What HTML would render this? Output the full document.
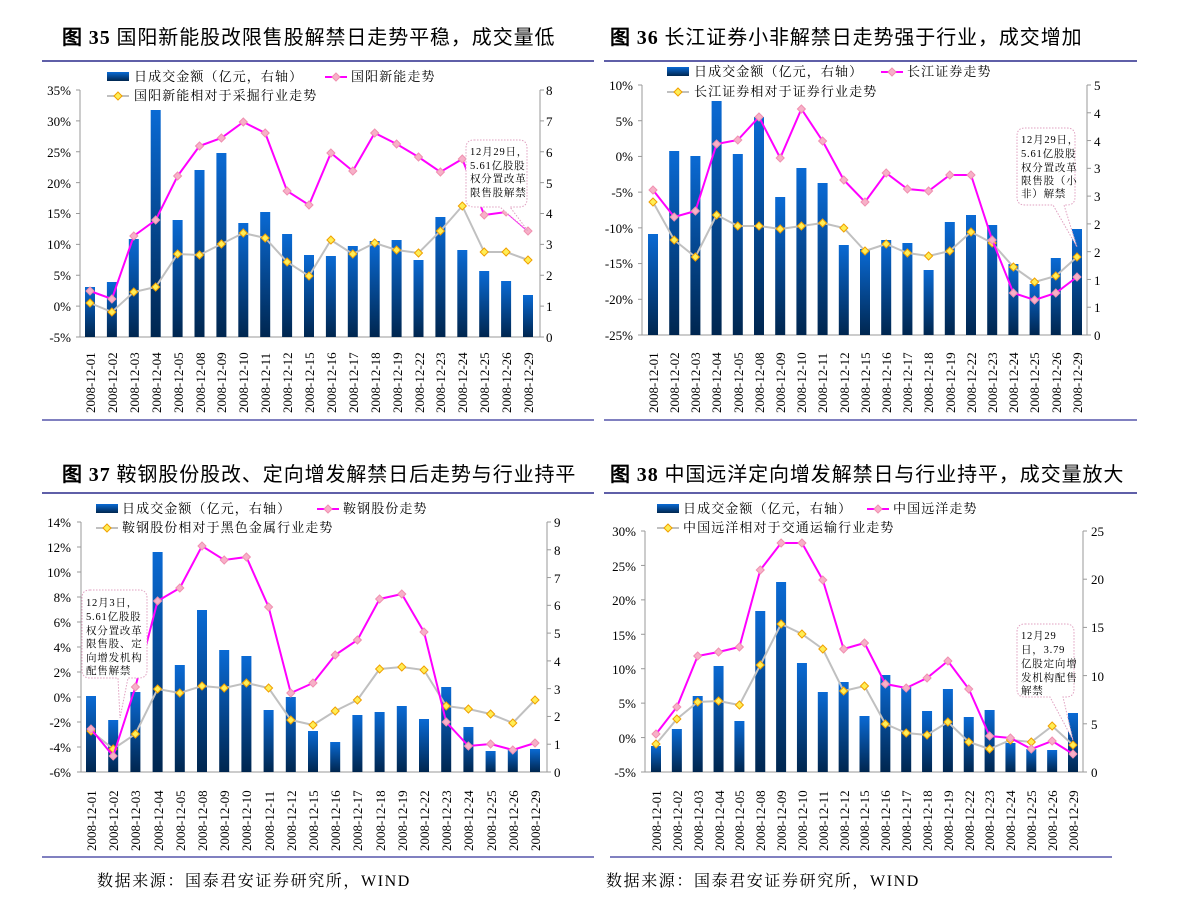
<!DOCTYPE html>
<html><head><meta charset="utf-8"><style>
html,body{margin:0;padding:0;background:#fff;}
svg{display:block;font-family:"Liberation Serif","Noto Serif CJK SC",serif;}
.t{font-size:20px;fill:#000;font-family:"Liberation Serif","Noto Sans CJK SC",sans-serif;letter-spacing:0.9px;}
.t tspan.n{font-weight:bold;font-family:"Liberation Serif",serif;}
.ax{font-size:13px;fill:#000;}
.lg{font-size:13px;fill:#000;letter-spacing:1.1px;}
.co{font-size:10.5px;fill:#000;letter-spacing:0.8px;}
.src{font-size:16px;fill:#000;letter-spacing:1.6px;}
</style></head><body>
<svg id="s" width="1190" height="909" viewBox="0 0 1190 909" xmlns="http://www.w3.org/2000/svg">
<defs>
<linearGradient id="g" x1="0" y1="0" x2="0" y2="1"><stop offset="0" stop-color="#0a6ad4"/><stop offset="1" stop-color="#00264f"/></linearGradient>
</defs>
<text class="t" x="62" y="44"><tspan class="n">图 35</tspan>  国阳新能股改限售股解禁日走势平稳，成交量低</text>
<text class="t" x="610" y="44"><tspan class="n">图 36</tspan>  长江证券小非解禁日走势强于行业，成交增加</text>
<text class="t" x="62" y="481"><tspan class="n">图 37</tspan>  鞍钢股份股改、定向增发解禁日后走势与行业持平</text>
<text class="t" x="610" y="481"><tspan class="n">图 38</tspan>  中国远洋定向增发解禁日与行业持平，成交量放大</text>
<line x1="42" y1="61" x2="594" y2="61" stroke="#2a2a8c" stroke-width="1.5"/>
<line x1="604" y1="61" x2="1137" y2="61" stroke="#2a2a8c" stroke-width="1.5"/>
<line x1="42" y1="420" x2="594" y2="420" stroke="#8080c0" stroke-width="2"/>
<line x1="604" y1="420" x2="1137" y2="420" stroke="#8080c0" stroke-width="2"/>
<line x1="42" y1="493" x2="594" y2="493" stroke="#2a2a8c" stroke-width="1.5"/>
<line x1="604" y1="493" x2="1137" y2="493" stroke="#2a2a8c" stroke-width="1.5"/>
<line x1="42" y1="857" x2="594" y2="857" stroke="#8080c0" stroke-width="2"/>
<line x1="610" y1="857" x2="1112" y2="857" stroke="#8080c0" stroke-width="2"/>
<text class="src" x="97" y="886">数据来源：国泰君安证券研究所，WIND</text>
<text class="src" x="606" y="886">数据来源：国泰君安证券研究所，WIND</text>

<g class="lg">
<rect x="107" y="72" width="22" height="9" fill="url(#g)"/><text x="134" y="81">日成交金额（亿元，右轴）</text>
<text x="351" y="81">国阳新能走势</text><text x="134" y="100">国阳新能相对于采掘行业走势</text>
<rect x="667" y="67" width="22" height="9" fill="url(#g)"/><text x="694" y="76">日成交金额（亿元，右轴）</text>
<text x="907" y="76">长江证券走势</text><text x="694" y="96">长江证券相对于证券行业走势</text>
<rect x="96" y="504" width="22" height="9" fill="url(#g)"/><text x="122" y="513">日成交金额（亿元，右轴）</text>
<text x="343" y="513">鞍钢股份走势</text><text x="122" y="532">鞍钢股份相对于黑色金属行业走势</text>
<rect x="657" y="504" width="22" height="9" fill="url(#g)"/><text x="683" y="513">日成交金额（亿元，右轴）</text>
<text x="893" y="513">中国远洋走势</text><text x="683" y="532">中国远洋相对于交通运输行业走势</text>
</g>

<g class="ax" text-anchor="end">
<text x="71" y="95">35%</text><text x="71" y="126">30%</text><text x="71" y="157">25%</text><text x="71" y="188">20%</text><text x="71" y="218">15%</text><text x="71" y="249">10%</text><text x="71" y="280">5%</text><text x="71" y="311">0%</text><text x="71" y="342">-5%</text>
<text x="633" y="90">10%</text><text x="633" y="126">5%</text><text x="633" y="161">0%</text><text x="633" y="197">-5%</text><text x="633" y="233">-10%</text><text x="633" y="268">-15%</text><text x="633" y="304">-20%</text><text x="633" y="340">-25%</text>
<text x="71" y="527">14%</text><text x="71" y="552">12%</text><text x="71" y="577">10%</text><text x="71" y="602">8%</text><text x="71" y="627">6%</text><text x="71" y="652">4%</text><text x="71" y="677">2%</text><text x="71" y="702">0%</text><text x="71" y="727">-2%</text><text x="71" y="752">-4%</text><text x="71" y="777">-6%</text>
<text x="636" y="536">30%</text><text x="636" y="571">25%</text><text x="636" y="605">20%</text><text x="636" y="640">15%</text><text x="636" y="674">10%</text><text x="636" y="708">5%</text><text x="636" y="743">0%</text><text x="636" y="777">-5%</text>
</g>
<g class="ax" text-anchor="start">
<text x="546" y="95">8</text><text x="546" y="126">7</text><text x="546" y="157">6</text><text x="546" y="188">5</text><text x="546" y="218">4</text><text x="546" y="249">3</text><text x="546" y="280">2</text><text x="546" y="311">1</text><text x="546" y="342">0</text>
<text x="1094" y="90">5</text><text x="1094" y="118">4</text><text x="1094" y="146">4</text><text x="1094" y="173">3</text><text x="1094" y="201">3</text><text x="1094" y="229">2</text><text x="1094" y="257">2</text><text x="1094" y="285">1</text><text x="1094" y="312">1</text><text x="1094" y="340">0</text>
<text x="554" y="527">9</text><text x="554" y="555">8</text><text x="554" y="583">7</text><text x="554" y="610">6</text><text x="554" y="638">5</text><text x="554" y="666">4</text><text x="554" y="694">3</text><text x="554" y="721">2</text><text x="554" y="749">1</text><text x="554" y="777">0</text>
<text x="1091" y="536">25</text><text x="1091" y="584">20</text><text x="1091" y="632">15</text><text x="1091" y="681">10</text><text x="1091" y="729">5</text><text x="1091" y="777">0</text>
</g>

<g class="ax" id="dates">
<g transform="translate(0,413)">
<text transform="translate(95,0) rotate(-90)">2008-12-01</text><text transform="translate(117,0) rotate(-90)">2008-12-02</text><text transform="translate(139,0) rotate(-90)">2008-12-03</text><text transform="translate(161,0) rotate(-90)">2008-12-04</text><text transform="translate(183,0) rotate(-90)">2008-12-05</text><text transform="translate(205,0) rotate(-90)">2008-12-08</text><text transform="translate(226,0) rotate(-90)">2008-12-09</text><text transform="translate(248,0) rotate(-90)">2008-12-10</text><text transform="translate(270,0) rotate(-90)">2008-12-11</text><text transform="translate(292,0) rotate(-90)">2008-12-12</text><text transform="translate(314,0) rotate(-90)">2008-12-15</text><text transform="translate(336,0) rotate(-90)">2008-12-16</text><text transform="translate(358,0) rotate(-90)">2008-12-17</text><text transform="translate(380,0) rotate(-90)">2008-12-18</text><text transform="translate(402,0) rotate(-90)">2008-12-19</text><text transform="translate(424,0) rotate(-90)">2008-12-22</text><text transform="translate(445,0) rotate(-90)">2008-12-23</text><text transform="translate(467,0) rotate(-90)">2008-12-24</text><text transform="translate(489,0) rotate(-90)">2008-12-25</text><text transform="translate(511,0) rotate(-90)">2008-12-26</text><text transform="translate(533,0) rotate(-90)">2008-12-29</text>
</g>
<g transform="translate(0,413)">
<text transform="translate(658,0) rotate(-90)">2008-12-01</text><text transform="translate(679,0) rotate(-90)">2008-12-02</text><text transform="translate(700,0) rotate(-90)">2008-12-03</text><text transform="translate(721,0) rotate(-90)">2008-12-04</text><text transform="translate(743,0) rotate(-90)">2008-12-05</text><text transform="translate(764,0) rotate(-90)">2008-12-08</text><text transform="translate(785,0) rotate(-90)">2008-12-09</text><text transform="translate(806,0) rotate(-90)">2008-12-10</text><text transform="translate(827,0) rotate(-90)">2008-12-11</text><text transform="translate(849,0) rotate(-90)">2008-12-12</text><text transform="translate(870,0) rotate(-90)">2008-12-15</text><text transform="translate(891,0) rotate(-90)">2008-12-16</text><text transform="translate(912,0) rotate(-90)">2008-12-17</text><text transform="translate(933,0) rotate(-90)">2008-12-18</text><text transform="translate(955,0) rotate(-90)">2008-12-19</text><text transform="translate(976,0) rotate(-90)">2008-12-22</text><text transform="translate(997,0) rotate(-90)">2008-12-23</text><text transform="translate(1018,0) rotate(-90)">2008-12-24</text><text transform="translate(1039,0) rotate(-90)">2008-12-25</text><text transform="translate(1061,0) rotate(-90)">2008-12-26</text><text transform="translate(1082,0) rotate(-90)">2008-12-29</text>
</g>
<g transform="translate(0,851)">
<text transform="translate(96,0) rotate(-90)">2008-12-01</text><text transform="translate(118,0) rotate(-90)">2008-12-02</text><text transform="translate(140,0) rotate(-90)">2008-12-03</text><text transform="translate(163,0) rotate(-90)">2008-12-04</text><text transform="translate(185,0) rotate(-90)">2008-12-05</text><text transform="translate(207,0) rotate(-90)">2008-12-08</text><text transform="translate(229,0) rotate(-90)">2008-12-09</text><text transform="translate(251,0) rotate(-90)">2008-12-10</text><text transform="translate(274,0) rotate(-90)">2008-12-11</text><text transform="translate(296,0) rotate(-90)">2008-12-12</text><text transform="translate(318,0) rotate(-90)">2008-12-15</text><text transform="translate(340,0) rotate(-90)">2008-12-16</text><text transform="translate(362,0) rotate(-90)">2008-12-17</text><text transform="translate(385,0) rotate(-90)">2008-12-18</text><text transform="translate(407,0) rotate(-90)">2008-12-19</text><text transform="translate(429,0) rotate(-90)">2008-12-22</text><text transform="translate(451,0) rotate(-90)">2008-12-23</text><text transform="translate(473,0) rotate(-90)">2008-12-24</text><text transform="translate(496,0) rotate(-90)">2008-12-25</text><text transform="translate(518,0) rotate(-90)">2008-12-26</text><text transform="translate(540,0) rotate(-90)">2008-12-29</text>
</g>
<g transform="translate(0,851)">
<text transform="translate(661,0) rotate(-90)">2008-12-01</text><text transform="translate(682,0) rotate(-90)">2008-12-02</text><text transform="translate(703,0) rotate(-90)">2008-12-03</text><text transform="translate(724,0) rotate(-90)">2008-12-04</text><text transform="translate(744,0) rotate(-90)">2008-12-05</text><text transform="translate(765,0) rotate(-90)">2008-12-08</text><text transform="translate(786,0) rotate(-90)">2008-12-09</text><text transform="translate(807,0) rotate(-90)">2008-12-10</text><text transform="translate(828,0) rotate(-90)">2008-12-11</text><text transform="translate(849,0) rotate(-90)">2008-12-12</text><text transform="translate(869,0) rotate(-90)">2008-12-15</text><text transform="translate(890,0) rotate(-90)">2008-12-16</text><text transform="translate(911,0) rotate(-90)">2008-12-17</text><text transform="translate(932,0) rotate(-90)">2008-12-18</text><text transform="translate(953,0) rotate(-90)">2008-12-19</text><text transform="translate(974,0) rotate(-90)">2008-12-22</text><text transform="translate(994,0) rotate(-90)">2008-12-23</text><text transform="translate(1015,0) rotate(-90)">2008-12-24</text><text transform="translate(1036,0) rotate(-90)">2008-12-25</text><text transform="translate(1057,0) rotate(-90)">2008-12-26</text><text transform="translate(1078,0) rotate(-90)">2008-12-29</text>
</g>
</g>

<g id="plots"></g>

<g fill="#fff" stroke="#e0a0c0" stroke-width="1" stroke-dasharray="1.5,1.5">
<path d="M474,140 H519 Q527,140 527,148 V199 Q527,207 519,207 H510 L528,231 L500,207 H474 Q466,207 466,199 V148 Q466,140 474,140 Z"/>
<path d="M1025,128 H1067 Q1075,128 1075,136 V197 Q1075,205 1067,205 H1064 L1077,247 L1053,205 H1025 Q1017,205 1017,197 V136 Q1017,128 1025,128 Z"/>
<path d="M90,590 H139 Q147,590 147,598 V670 Q147,678 139,678 H128 L120,718 L118,678 H90 Q82,678 82,670 V598 Q82,590 90,590 Z"/>
<path d="M1025,624 H1066 Q1074,624 1074,632 V689 Q1074,697 1066,697 H1063 L1073,740 L1050,697 H1025 Q1017,697 1017,689 V632 Q1017,624 1025,624 Z"/>
</g>
<g class="co">
<text x="470" y="155">12月29日，</text><text x="470" y="169">5.61亿股股</text><text x="470" y="182">权分置改革</text><text x="470" y="196">限售股解禁</text>
<text x="1021" y="143">12月29日，</text><text x="1021" y="157">5.61亿股股</text><text x="1021" y="171">权分置改革</text><text x="1021" y="184">限售股（小</text><text x="1021" y="197">非）解禁</text>
<text x="86" y="606">12月3日，</text><text x="86" y="620">5.61亿股股</text><text x="86" y="634">权分置改革</text><text x="86" y="647">限售股、定</text><text x="86" y="661">向增发机构</text><text x="86" y="674">配售解禁</text>
<text x="1021" y="639">12月29</text><text x="1021" y="653">日，3.79</text><text x="1021" y="667">亿股定向增</text><text x="1021" y="681">发机构配售</text><text x="1021" y="694">解禁</text>
</g>
</svg>
<script>
var NS="http://www.w3.org/2000/svg",P=document.getElementById("plots");
function el(n,a){var e=document.createElementNS(NS,n);for(var k in a)e.setAttribute(k,a[k]);P.appendChild(e);return e;}
function chart(c){
 var n=21,dx=(c.x1-c.x0)/20;
 el("line",{x1:c.L,y1:c.T,x2:c.L,y2:c.B,stroke:"#999","stroke-width":1});
 el("line",{x1:c.R,y1:c.T,x2:c.R,y2:c.B,stroke:"#999","stroke-width":1});
 for(var i=0;i<c.nl;i++){var y=c.T+(c.B-c.T)*i/(c.nl-1);el("line",{x1:c.L-4,y1:y,x2:c.L,y2:y,stroke:"#999"});}
 for(var i=0;i<c.nr;i++){var y=c.T+(c.B-c.T)*i/(c.nr-1);el("line",{x1:c.R,y1:y,x2:c.R+4,y2:y,stroke:"#999"});}
 el("line",{x1:c.L-4,y1:c.B,x2:c.R+4,y2:c.B,stroke:"#999"});
 for(var i=0;i<n;i++){var x=c.x0+dx*i;el("rect",{x:x-5,y:c.b[i],width:10,height:c.B-c.b[i],fill:"url(#g)"});}
 function line(v,col,mf,ms){var pts=v.map(function(y,i){return (c.x0+dx*i).toFixed(1)+","+y;}).join(" ");
  el("polyline",{points:pts,fill:"none",stroke:col,"stroke-width":2});
  v.forEach(function(y,i){var x=c.x0+dx*i;el("path",{d:"M"+x+","+(y-4)+"L"+(x+4)+","+y+"L"+x+","+(y+4)+"L"+(x-4)+","+y+"Z",fill:mf,stroke:ms,"stroke-width":1});});}
 line(c.g,"#c0c0c0","#ffee55","#f0a000");
 line(c.m,"#ff00ff","#f7b0c8","#f090b0");
}
function leg(x,y,col,mf,ms){el("line",{x1:x,y1:y,x2:x+22,y2:y,stroke:col,"stroke-width":2});var cx=x+11;el("path",{d:"M"+cx+","+(y-4)+"L"+(cx+4)+","+y+"L"+cx+","+(y+4)+"L"+(cx-4)+","+y+"Z",fill:mf,stroke:ms});}
chart({L:80,R:540,T:90,B:337,nl:9,nr:9,x0:90,x1:528,
 b:[287,282,239,110,220,170,153,223,212,234,255,256,246,241,240,260,217,250,271,281,295],
 m:[291,299,236,220,176,146,138,122,133,191,205,153,171,133,144,157,172,159,215,212,231],
 g:[303,312,292,287,254,255,244,233,238,262,276,240,254,243,250,253,231,206,252,252,260]});
chart({L:642,R:1087,T:85,B:335,nl:8,nr:10,x0:653,x1:1077,
 b:[234,151,156,101,154,117,197,168,183,245,249,240,243,270,222,215,225,264,284,258,229],
 m:[190,217,211,144,140,117,158,109,141,180,202,173,189,191,175,175,240,293,300,293,277],
 g:[202,240,257,215,226,226,229,226,223,228,251,244,253,256,251,232,243,267,282,276,257]});
chart({L:81,R:547,T:522,B:772,nl:11,nr:10,x0:91,x1:535,
 b:[696,720,692,552,665,610,650,656,710,697,731,742,715,712,706,719,687,727,751,749,749],
 m:[729,756,687,601,588,546,560,557,607,693,683,655,640,599,594,632,722,746,744,750,743],
 g:[731,749,734,689,693,686,688,683,688,720,725,711,700,669,667,670,706,709,714,723,700]});
chart({L:645,R:1083,T:531,B:772,nl:8,nr:6,x0:656,x1:1073,
 b:[746,729,696,666,721,611,582,663,692,682,716,675,687,711,689,717,710,743,749,750,713],
 m:[734,707,656,652,647,570,543,543,580,649,643,684,688,678,661,689,736,738,749,741,754],
 g:[744,719,702,701,705,665,624,634,649,691,686,724,733,735,722,742,749,740,742,726,745]});
leg(325,77,"#ff00ff","#f7b0c8","#f090b0");leg(107,96,"#c0c0c0","#ffee55","#f0a000");
leg(881,72,"#ff00ff","#f7b0c8","#f090b0");leg(667,92,"#c0c0c0","#ffee55","#f0a000");
leg(317,509,"#ff00ff","#f7b0c8","#f090b0");leg(96,528,"#c0c0c0","#ffee55","#f0a000");
leg(867,509,"#ff00ff","#f7b0c8","#f090b0");leg(657,528,"#c0c0c0","#ffee55","#f0a000");
var s=document.getElementById("s");var gs=s.querySelectorAll("svg > g");
s.appendChild(gs[gs.length-2]);s.appendChild(gs[gs.length-1]);
</script>
</body></html>
